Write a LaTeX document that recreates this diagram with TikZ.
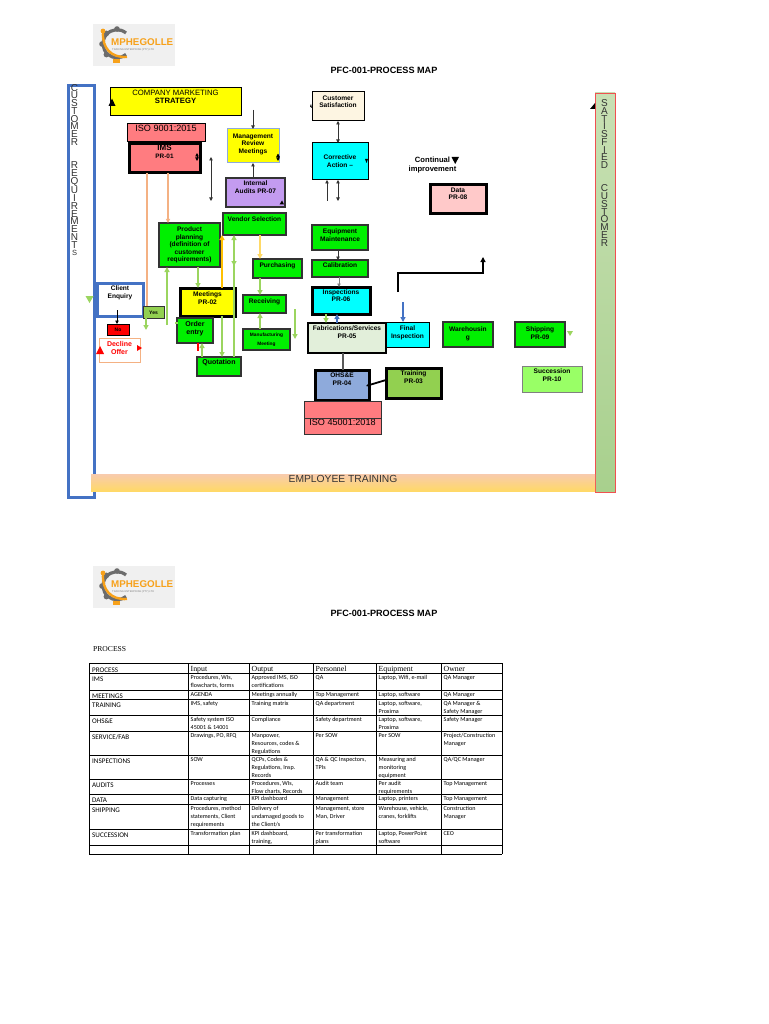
\documentclass[tikz,border=0pt]{standalone}
\usepackage{fontspec}
\setmainfont{Liberation Sans}
\newfontfamily\serifx{Liberation Serif}
\newfontfamily\calib{Carlito}
\usetikzlibrary{arrows.meta,calc}
\definecolor{gr}{HTML}{00F000}
\definecolor{lg}{HTML}{9BD55F}
\definecolor{sal}{HTML}{FF7C80}
\definecolor{blu}{HTML}{4472C4}
\definecolor{org}{HTML}{F4B183}
\definecolor{amb}{HTML}{FFC000}
\definecolor{yel}{HTML}{FFD966}
\definecolor{dk}{HTML}{333333}
\definecolor{cy}{HTML}{00FFFF}
\definecolor{yl}{HTML}{FFFF00}
\definecolor{rd}{HTML}{FF0000}
\definecolor{sred}{HTML}{F05050}
\definecolor{lgo}{HTML}{F7A11A}
\definecolor{sgt}{HTML}{C8E0B4}
\definecolor{sgb}{HTML}{A8D08D}
\definecolor{bt}{HTML}{F8CBAD}
\tikzset{
  base/.style={draw=black,line width=1pt,inner sep=0pt,outer sep=0pt,align=center,font=\bfseries\fontsize{6.6}{7.6}\selectfont},
  thick3/.style={line width=3pt},
  grn/.style={fill=gr,draw=dk,line width=1.2pt},
  arrk/.style={draw=dk,line width=.8pt,-{Triangle[length=3.5pt,width=3.5pt]}},
  arrkb/.style={draw=dk,line width=.8pt,{Triangle[length=3.5pt,width=3.5pt]}-{Triangle[length=3.5pt,width=3.5pt]}},
  arrg/.style={draw=lg,line width=1.4pt,-{Triangle[length=5pt,width=5pt]}},
  arro/.style={draw=org,line width=1.2pt,-{Triangle[length=4pt,width=4pt]}},
  arra/.style={draw=amb,line width=1.2pt,-{Triangle[length=5pt,width=5pt]}},
  arry/.style={draw=yel,line width=1.4pt,-{Triangle[length=5pt,width=5pt]}},
  arrb/.style={draw=blu,line width=1.4pt,-{Triangle[length=5pt,width=5pt]}},
  cellt/.style={anchor=north west,inner sep=0pt,align=left,yshift=-1.2pt,font=\calib\fontsize{6.1}{7.7}\selectfont},
  rowt/.style={anchor=north west,inner sep=0pt,yshift=-1.5pt,font=\calib\fontsize{7.1}{8}\selectfont},
  headt/.style={anchor=north west,inner sep=0pt,yshift=-1pt,font=\serifx\fontsize{7.8}{8}\selectfont},
  title/.style={font=\bfseries\fontsize{9.1}{10}\selectfont},
  stack/.style={inner sep=0pt,anchor=north,align=center}
}
% name, x0, y0, x1, y1, style, top offset, text
\newcommand\bx[8]{%
  \pgfmathsetmacro\bxw{#4-#2}\pgfmathsetmacro\bxh{#5-#3}%
  \node[base,#6,minimum width=\bxw pt,minimum height=\bxh pt,anchor=north west] (#1) at (#2,#3)
   {\parbox[c][\bxh pt][t]{\bxw pt}{\centering\vspace*{#7pt}#8}};}
\newcommand\logoat[2]{%
 \begin{scope}[shift={(#1,#2)}]
  \fill[black!6] (0,0) rectangle (82,42);
  \draw[gray!85!black,line width=3.2pt] (33,9) arc[start angle=-50,end angle=-310,radius=14];
  \foreach \a in {90,135,180,225,270}{\fill[gray!85!black] ($(24,20)+(\a:15)$) circle (2.8);}
  \draw[lgo,line width=2.4pt] (10,8) .. controls (9,24) and (18,34) .. (34,33);
  \fill[lgo] (10,7) circle (2.4);
  \fill[lgo] (20,35) rectangle (27,39);
  \node[anchor=west,inner sep=0pt,text=lgo,font=\bfseries\fontsize{9.8}{10}\selectfont] (logo#2) at (18,18.5) {MPHEGOLLE};
  \node[anchor=west,inner sep=0pt,text=gray,font=\fontsize{2.6}{3}\selectfont] (logosub#2) at (19,26) {TRADING ENTERPRISE (PTY) LTD};
 \end{scope}}
\begin{document}
\begin{tikzpicture}[x=1pt,y=-1pt]
\path[use as bounding box,fill=white] (0,0) rectangle (768,1024);
\logoat{93}{24}
\logoat{93}{566}
\node[title] (t1) at (384,70.5) {PFC-001-PROCESS MAP};
\node[title] (t2) at (384,613) {PFC-001-PROCESS MAP};

% side panels
\node[draw=blu,line width=3pt,fill=white,minimum width=26pt,minimum height=412pt,anchor=north west,inner sep=0pt] (cust) at (67,84) {};
\node[stack,font=\fontsize{10}{7.75}\selectfont,text=dk] (custt) at (74.5,84)
 {C\\U\\S\\T\\O\\M\\E\\R\\~\\~\\R\\E\\Q\\U\\I\\R\\E\\M\\E\\N\\T\\{\fontsize{7.5}{7.75}\selectfont S}};
\shade[top color=sgt,bottom color=sgb] (595,93) rectangle (615,492);
\node[draw=sred,line width=1.2pt,minimum width=20pt,minimum height=399pt,anchor=north west,inner sep=0pt] (sat) at (595,93) {};
\node[stack,font=\fontsize{10}{7.75}\selectfont,text=dk] (satt) at (604.5,99.5)
 {S\\A\\T\\I\\S\\F\\I\\E\\D\\~\\~\\C\\U\\S\\T\\O\\M\\E\\R};
\node[top color=bt,bottom color=yel,minimum width=504pt,minimum height=17pt,anchor=north west,inner sep=0pt] (emp) at (91,474) {};
\node[inner sep=0pt,text=dk,font=\fontsize{10.3}{12}\selectfont] (empt) at (343,479) {EMPLOYEE TRAINING};

% boxes
\bx{mkt}{110}{88}{241}{116}{fill=yl,font=\fontsize{7.7}{8.3}\selectfont}{2.2}{COMPANY MARKETING\\\textbf{STRATEGY}}
\bx{iso1}{127}{124}{205}{142}{fill=sal,font=\fontsize{9.1}{11}\selectfont}{1.4}{ISO 9001:2015}
\bx{ims}{129}{144}{200}{173}{fill=sal,thick3,font=\bfseries\fontsize{8}{8}\selectfont}{0.8}{IMS\\{\fontsize{6.4}{8}\selectfont PR-01}}
\bx{mgmt}{227}{129}{279}{163}{fill=yl,draw={rgb,255:red,142;green,170;blue,219}}{4.7}{Management\\Review\\Meetings}
\bx{aud}{226}{178}{285}{207}{fill={rgb,255:red,195;green,155;blue,240},line width=2.4pt,draw=dk}{3}{Internal\\Audits PR-07}
\bx{ven}{223}{213}{286}{235}{grn}{3.4}{Vendor Selection}
\bx{prod}{159}{223}{220}{267}{grn}{3.7}{Product\\planning\\(definition of\\customer\\requirements)}
\bx{sat1}{312}{92}{364}{121}{fill={rgb,255:red,253;green,245;blue,226}}{3.4}{Customer\\Satisfaction}
\bx{corr}{312}{143}{368}{180}{fill=cy,font=\bfseries\fontsize{6.6}{8}\selectfont}{12}{Corrective\\Action –}
\bx{eq}{312}{225}{368}{250}{grn,font=\bfseries\fontsize{6.6}{8}\selectfont}{3.7}{Equipment\\Maintenance}
\bx{cal}{312}{260}{368}{277}{grn}{3}{Calibration}
\bx{pur}{253}{259}{302}{278}{grn}{3.7}{Purchasing}
\bx{rec}{243}{295}{286}{313}{grn}{3.4}{Receiving}
\bx{man}{243}{329}{290}{350}{grn,font=\bfseries\fontsize{4.8}{9}\selectfont}{3.6}{Manufacturing\\Meeting}
\bx{cli}{97}{283}{143}{316}{draw=blu,line width=3pt,fill=white,font=\bfseries\fontsize{6.6}{8}\selectfont}{2.7}{Client\\Enquiry}
\bx{yes}{143}{306}{164}{318}{fill={rgb,255:red,146;green,208;blue,80},draw=dk,font=\bfseries\fontsize{5}{6}\selectfont}{5.2}{Yes}
\bx{no}{107}{324}{129}{335}{fill=rd,font=\bfseries\fontsize{5}{6}\selectfont}{4.2}{No}
\bx{dec}{99}{338}{140}{362}{fill=white,draw=org,text=rd,font=\bfseries\fontsize{7}{8}\selectfont}{3.5}{Decline\\Offer}
\bx{meet}{180}{288}{235}{316}{fill=yl,thick3}{4}{Meetings\\PR-02}
\bx{ord}{177}{318}{213}{343}{grn,font=\bfseries\fontsize{7}{8}\selectfont}{3.5}{Order\\entry}
\bx{quo}{197}{357}{241}{376}{grn,font=\bfseries\fontsize{7}{8}\selectfont}{2.8}{Quotation}
\bx{insp}{312}{287}{370}{314}{fill=cy,thick3,font=\bfseries\fontsize{6.6}{7}\selectfont}{3}{Inspections\\PR-06}
\bx{fab}{308}{323}{386}{353}{fill={rgb,255:red,226;green,239;blue,218},line width=2.4pt,font=\bfseries\fontsize{6.6}{8}\selectfont}{2.4}{Fabrications/Services\\PR-05}
\bx{fin}{386}{322}{429}{347}{fill=cy,font=\bfseries\fontsize{6.6}{8}\selectfont}{3.4}{Final\\Inspection}
\bx{war}{443}{322}{493}{347}{grn}{4.7}{Warehousin\\g}
\bx{shi}{515}{322}{565}{347}{grn}{4.7}{Shipping\\PR-09}
\bx{suc}{522}{366}{582}{392}{fill={rgb,255:red,153;green,255;blue,102},draw=gray,font=\bfseries\fontsize{6.6}{8.2}\selectfont}{2.7}{Succession\\PR-10}
\bx{ohs}{315}{370}{369}{400}{fill={rgb,255:red,142;green,170;blue,219},thick3,font=\bfseries\fontsize{6.6}{8}\selectfont}{2.7}{OHS\&E\\PR-04}
\bx{tra}{386}{368}{441}{398}{fill={rgb,255:red,146;green,208;blue,80},thick3,font=\bfseries\fontsize{6.6}{8}\selectfont}{3}{Training\\PR-03}
\bx{iso2}{304}{401}{381}{434}{fill=sal,draw=dk,font=\fontsize{9.1}{11}\selectfont}{18}{ISO 45001:2018}
\bx{dat}{430}{185}{486}{214}{fill={rgb,255:red,255;green,201;blue,201},thick3,font=\bfseries\fontsize{6.6}{7.3}\selectfont}{3}{Data\\PR-08}
\draw[dk,line width=.8pt] (iso2.west |- 0,418) -- (iso2.east |- 0,418);
\node[inner sep=0pt,align=center,font=\bfseries\fontsize{7.6}{8.2}\selectfont] (cont) at (432.5,165) {Continual\\improvement};

% free ends
\coordinate (f1) at (253,110);
\coordinate (f2a) at (211,157);
\coordinate (f2b) at (211,201);
\coordinate (f3) at (327,201);
\coordinate (f4) at (338,201);
\coordinate (f5) at (146,330);
\coordinate (f6) at (167,325);
\coordinate (f7a) at (295,309);
\coordinate (f7b) at (295,339);
\coordinate (f8a) at (403,302);
\coordinate (f9a) at (398,292);
\coordinate (f9b) at (483,257);
\coordinate (f10) at (198,351);

% connectors
\draw[arrk] (f1) -- (253,0 |- mgmt.north);
\draw[arrk] (253,0 |- aud.north) -- (253,0 |- mgmt.south);
\draw[arrkb] (f2a) -- (f2b);
\draw[arrkb] (338,0 |- sat1.south) -- (338,0 |- corr.north);
\draw[arrk] (f3) -- (327,0 |- corr.south);
\draw[arrkb] (338,0 |- corr.south) -- (f4);
\draw[arrk] (338,0 |- eq.south) -- (338,0 |- cal.north);
\draw[arrk,draw=gray] (339,0 |- cal.south) -- (339,0 |- insp.north);
\draw[draw=gray!70!black,line width=1.3pt] (343,0 |- fab.south) -- (343,0 |- ohs.north);
\draw[black,line width=1.8pt,-{Triangle[length=4pt,width=4pt]}] (tra.west |- 0,380) -- (366,386);
\draw[org,line width=1.2pt] (147,0 |- ims.south) -- (147,0 |- yes.north);
\draw[arro] (168,0 |- ims.south) -- (168,0 |- prod.north);
\draw[arrg] (146,0 |- yes.south) -- (f5);
\draw[arrg] (f6) -- (167,0 |- prod.south);
\draw[draw=lg,line width=1.2pt] (175,323) -- (178,323);
\draw[arrg] (198,0 |- prod.south) -- (198,0 |- meet.north);
\draw[arra] (222,0 |- meet.north) -- (222,0 |- ven.south);
\draw[arrg] (222,0 |- meet.south) -- (222,0 |- quo.north);
\draw[arrg] (234,0 |- quo.north) -- (234,0 |- ven.south);
\draw[arrg] (234,236) -- (234,266);
\draw[arrg] (202,0 |- quo.north) -- (202,0 |- ord.south);
\draw[draw=rd,line width=1.6pt] (198,0 |- ord.south) -- (f10);
\draw[arry] (260,0 |- ven.south) -- (260,0 |- pur.north);
\draw[arrg] (260,0 |- pur.south) -- (260,0 |- rec.north);
\draw[arrg] (260,0 |- man.north) -- (260,0 |- rec.south);
\draw[arrg] (f7a) -- (f7b);
\draw[arrg] (326,0 |- insp.south) -- (326,0 |- fab.north);
\draw[arrb] (337,0 |- fab.north) -- (337,0 |- insp.south);
\draw[arrb] (f8a) -- (403,0 |- fin.north);
\draw[black,line width=1.9pt,-{Triangle[length=5pt,width=5pt]}] (f9a) -- (398,273) -- (483,273) -- (f9b);
\draw[arrk,draw=black] (117,310) -- (117,0 |- no.north);

% small markers
\fill[black] (108.5,106) -- (115.5,106) -- (112,98.5) -- cycle;
\draw[arrkb,draw=black,line width=1pt] (197,153) -- (197,161);
\draw[arrkb,draw=black,line width=1pt] (278,153.5) -- (278,161);
\fill[black] (279.5,204.5) -- (284,204.5) -- (282,200.5) -- cycle;
\fill[black] (311,104) -- (312,108) -- (310,106.5) -- cycle;
\fill[black] (365,159) -- (368,159) -- (366.5,163) -- cycle;
\fill[black] (451.5,157) -- (459,157) -- (455.2,164) -- cycle;
\fill[black] (590,109) -- (595,109) -- (595,103) -- cycle;
\fill[lg] (85.5,296) -- (93.5,296) -- (89.5,303) -- cycle;
\fill[rd] (96,354) -- (104,354) -- (100,346) -- cycle;
\fill[rd] (137,345) -- (142,348) -- (137,351) -- cycle;
\fill[lg] (567,331) -- (573,331) -- (570,336) -- cycle;

% table
\node[anchor=west,inner sep=0pt,font=\serifx\fontsize{7.6}{8}\selectfont] (ptitle) at (93,649) {PROCESS};
\foreach \yy in {663,673,690,699,715,731,755,779,794,804,829,845,854}
  \draw[black,line width=.8pt] (89,\yy) -- (502,\yy);
\foreach \xx in {89,188,249,313,376,441,502}
  \draw[black,line width=.8pt] (\xx,663) -- (\xx,854);
\newcommand\hs{\rule{0pt}{5.8pt}}
\newcommand\cs{\rule{0pt}{4.9pt}}
\node[rowt] (h0) at (92,664.5) {\hs PROCESS};
\node[headt] (h1) at (190.5,664) {\hs Input};
\node[headt] (h2) at (251.5,664) {\hs Output};
\node[headt] (h3) at (315.5,664) {\hs Personnel};
\node[headt] (h4) at (378.5,664) {\hs Equipment};
\node[headt] (h5) at (443.5,664) {\hs Owner};
% rows: y, first, input, output, personnel, equipment, owner
\newcommand\trow[7]{%
 \node[rowt] at (92,#1) {\hs #2};
 \node[cellt] at (190.5,#1) {\cs #3};
 \node[cellt] at (251.5,#1) {\cs #4};
 \node[cellt] at (315.5,#1) {\cs #5};
 \node[cellt] at (378.5,#1) {\cs #6};
 \node[cellt] at (443.5,#1) {\cs #7};}
\trow{673.5}{IMS}{Procedures, WIs,\\flowcharts, forms}{Approved IMS, ISO\\certifications}{QA}{Laptop, Wifi, e-mail}{QA Manager}
\trow{690.5}{MEETINGS}{AGENDA}{Meetings annually}{Top Management}{Laptop, software}{QA Manager}
\trow{699.5}{TRAINING}{IMS, safety}{Training matrix}{QA department}{Laptop, software,\\Proxima}{QA Manager \&\\Safety Manager}
\trow{715.5}{OHS\&E}{Safety system ISO\\45001 \& 14001}{Compliance}{Safety department}{Laptop, software,\\Proxima}{Safety Manager}
\trow{731.5}{SERVICE/FAB}{Drawings, PO, RFQ}{Manpower,\\Resources, codes \&\\Regulations}{Per SOW}{Per SOW}{Project/Construction\\Manager}
\trow{755.5}{INSPECTIONS}{SOW}{QCPs, Codes \&\\Regulations, Insp.\\Records}{QA \& QC Inspectors,\\TPIs}{Measuring and\\monitoring\\equipment}{QA/QC Manager}
\trow{779.5}{AUDITS}{Processes}{Procedures, WIs,\\Flow charts, Records}{Audit team}{Per audit\\requirements}{Top Management}
\trow{794.5}{DATA}{Data capturing}{KPI dashboard}{Management}{Laptop, printers}{Top Management}
\trow{804.5}{SHIPPING}{Procedures, method\\statements, Client\\requirements}{Delivery of\\undamaged goods to\\the Client/s}{Management, store\\Man, Driver}{Warehouse, vehicle,\\cranes, forklifts}{Construction\\Manager}
\trow{829.5}{SUCCESSION}{Transformation plan}{KPI dashboard,\\training,}{Per transformation\\plans}{Laptop, PowerPoint\\software}{CEO}
\end{tikzpicture}
\end{document}
